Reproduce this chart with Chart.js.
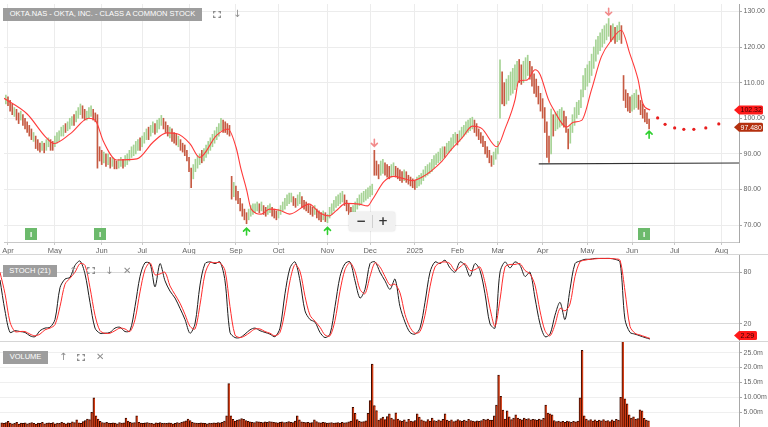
<!DOCTYPE html>
<html>
<head>
<meta charset="utf-8">
<script src="https://cdn.jsdelivr.net/npm/chart.js@4.4.1/dist/chart.umd.min.js"></script>
<style>
  html, body { margin: 0; padding: 0; background: #fff; }
  #wrap { position: relative; width: 768px; height: 427px; overflow: hidden; font-family: "Liberation Sans", Arial, sans-serif; }
  .pane { position: absolute; left: 0; width: 768px; box-sizing: border-box; }
  .pane canvas { position: absolute; left: 0; top: 0; }
  .tag { position: absolute; box-sizing: border-box; height: 12.5px; line-height: 12.5px; background: #9d9d9d; color: #fff;
         font-size: 7.5px; text-align: center; white-space: nowrap; }
  .ico { position: absolute; color: #8c8c8c; font-family: "DejaVu Sans", sans-serif; font-size: 10px; line-height: 10px; }
  #zoomCtl { position: absolute; left: 349px; top: 212px; width: 46px; height: 19px; background: #f1f1f1; border-radius: 2px;
             box-shadow: 0 0 2px rgba(0,0,0,0.18); font-family: "DejaVu Sans", sans-serif; font-weight: bold; color: #333; font-size: 12px; }
  #zoomCtl span { position: absolute; top: 2px; line-height: 14px; }
  #zoomCtl i { position: absolute; left: 23px; top: 3px; width: 1px; height: 13px; background: #d0d0d0; }
</style>
</head>
<body>
<div id="wrap">
  <div class="pane" style="top:0;height:254px"><canvas id="cPrice" width="768" height="254"></canvas></div>
  <div class="pane" style="top:254px;height:87px;border-top:1px solid #d6d6d6"><canvas id="cStoch" width="768" height="86"></canvas></div>
  <div class="pane" style="top:341px;height:86px;border-top:1px solid #d6d6d6"><canvas id="cVol" width="768" height="85"></canvas></div>

  <div class="tag" style="left:3px;top:8px;width:199px">OKTA.NAS - OKTA, INC. - CLASS A COMMON STOCK</div>
  <svg class="ico" style="left:213px;top:10.5px" width="8" height="7"><path d="M0.6 2.4V0.6H2.6M5.4 0.6H7.4V2.4M7.4 4.6V6.4H5.4M2.6 6.4H0.6V4.6" stroke="#8c8c8c" stroke-width="1.2" fill="none"/></svg>
  <div class="ico" style="left:233px;top:9px">↓</div>

  <div class="tag" style="left:3px;top:264.5px;width:54px">STOCH (21)</div>
  <div class="ico" style="left:69px;top:265.5px">↑</div>
  <svg class="ico" style="left:87px;top:267px" width="8" height="7"><path d="M0.6 2.4V0.6H2.6M5.4 0.6H7.4V2.4M7.4 4.6V6.4H5.4M2.6 6.4H0.6V4.6" stroke="#8c8c8c" stroke-width="1.2" fill="none"/></svg>
  <div class="ico" style="left:105px;top:265.5px">↓</div>
  <div class="ico" style="left:123px;top:265.5px">✕</div>

  <div class="tag" style="left:3px;top:351px;width:45px">VOLUME</div>
  <div class="ico" style="left:59px;top:352px">↑</div>
  <svg class="ico" style="left:77px;top:353.5px" width="8" height="7"><path d="M0.6 2.4V0.6H2.6M5.4 0.6H7.4V2.4M7.4 4.6V6.4H5.4M2.6 6.4H0.6V4.6" stroke="#8c8c8c" stroke-width="1.2" fill="none"/></svg>
  <div class="ico" style="left:96px;top:352px">✕</div>

  <div id="zoomCtl"><span style="left:7px">−</span><i></i><span style="left:29px">+</span></div>
</div>

<script>
/* ---- shared x axis: trading-day index, 0 = 1 Apr 2024 ---- */
const X_MIN = -1.87;
const X_MAX = 343.2;
const AXIS_W = 29;
const FONT = "'Liberation Sans', Arial, sans-serif";

const monthIdx = [0, 22, 44, 63, 85, 107, 127, 150, 170, 191, 211, 230, 251, 272, 293, 313, 335];
const monthLabels = ["Apr", "May", "Jun", "Jul", "Aug", "Sep", "Oct", "Nov", "Dec", "2025", "Feb", "Mar", "Apr", "May", "Jun", "Jul", "Aug"];

/* ---- price bars, one per trading day from idx -1 ---- */
const FIRST_IDX = -1;
const priceLow = [
  104, 103.5, 102, 101, 100.5, 99.5, 98.5, 99.5, 98, 97,
  96, 95, 94, 93.5, 91.5, 91, 90.5, 91, 90.3, 91,
  92, 91, 91, 92, 93, 93.5, 95, 95, 96, 96.5,
  97, 98, 98, 99, 100, 101, 100, 99.5, 99.5, 100,
  100.5, 99.5, 99, 86, 88, 87, 87.5, 86.5, 87, 86,
  86.5, 85.8, 85.8, 86, 86.5, 86, 86.5, 87, 88, 89,
  89.5, 90, 91, 91, 92, 93, 94, 94, 95, 96,
  95.5, 96, 97, 98, 97, 96, 95, 94.5, 93.5, 93,
  92.5, 92, 91, 90.5, 89.5, 88, 85, 80.5, 83, 85,
  86, 87, 87.5, 88, 89, 90, 91, 92, 93, 94,
  95, 96.5, 96, 96, 95.5, 95, 77.3, 78, 77, 76,
  74, 72.5, 71.5, 70.4, 71.5, 72.5, 73, 73.5, 74, 73.5,
  74, 73, 72.5, 73, 73.5, 72.5, 72, 71.5, 72, 73,
  74, 74.5, 75.5, 76, 76.5, 75.5, 75, 75.5, 76, 75,
  74.5, 74, 73.5, 73, 72.5, 73, 72, 71.5, 71, 71.5,
  71, 70.7, 72, 73, 74, 75, 75.5, 76, 76.5, 75.5,
  74, 73, 72.5, 73, 73.5, 74.5, 75.5, 76, 76.5, 77,
  77.5, 78, 78.5, 84, 84, 83, 84, 84.5, 84, 83.5,
  83, 83.5, 84, 83.5, 83, 82.5, 82, 82.5, 82, 81.5,
  81, 80.5, 80, 80.5, 81, 81.5, 82.5, 83.5, 84, 84.5,
  85, 86, 87, 87.5, 88, 88.5, 89, 90, 90.5, 91,
  92, 93, 92.5, 93.5, 94.5, 95, 95.5, 96, 96.5, 97,
  96, 95, 94, 93, 92, 90, 89, 87.5, 86.5, 87,
  88.5, 90, 100, 104, 103.5, 104, 105, 106.5, 107, 108,
  109, 110, 109.5, 110, 111, 112, 111, 109, 107, 106,
  104, 102, 100, 96, 89, 87.6, 90, 95, 96.5, 97,
  97.5, 98, 97.5, 96, 91.4, 93, 96, 98, 100, 101,
  103, 106, 108, 109, 110, 112, 114, 116, 118, 119,
  120, 121, 122, 123, 121.5, 122, 121, 121.5, 122, 121,
  105, 103, 102, 101.6, 102, 102.5, 103, 102.5, 101, 100,
  99, 98.5, 97
];
const priceHigh = [
  106.5, 106, 105, 104, 103, 102.5, 101.5, 102, 101, 100,
  99, 98, 97, 96, 95, 94, 93, 93.5, 93, 94,
  94.5, 94, 93.5, 95, 96, 96.5, 97.5, 98, 98.5, 99,
  100, 100.5, 101, 102, 103, 104, 103.5, 102.5, 102, 103,
  103.5, 102.5, 101.5, 101, 92, 91, 90.5, 90, 90, 89,
  89, 88.5, 88, 88.5, 89, 88.5, 89.5, 90, 91, 92,
  92.5, 93.5, 94, 94.5, 95, 96, 97, 97.5, 98, 99,
  98.5, 99.5, 100, 100.8, 100, 99, 98, 97.5, 97, 96,
  95.5, 95, 94, 93, 92.5, 91, 89, 86, 87, 88.5,
  89.5, 90, 91, 91.5, 92.5, 93.5, 94.5, 95.5, 96.5, 97.5,
  98.5, 100, 99.5, 99, 98.5, 98, 83.7, 82, 81, 79.5,
  77.5, 76, 74.5, 73.5, 74.5, 75.5, 76, 76, 76.5, 76,
  76.5, 75.5, 75, 75.5, 76, 75, 74.5, 74, 74.5, 75.5,
  76.5, 77.5, 78.5, 79, 79, 78, 77.5, 78.5, 79.2, 78,
  77, 76.5, 76, 75.5, 75, 75.5, 74.5, 74, 73.5, 74,
  73.5, 73, 75, 76, 77, 78, 78.5, 79, 79.5, 78.5,
  77, 76, 75, 75.5, 76.5, 77.5, 78.5, 79, 79.5, 80,
  80.5, 81, 81.5, 91, 88, 87, 88, 88.5, 87.5, 87,
  86.5, 87, 87.5, 86.5, 86, 85.5, 85, 85.5, 85, 84,
  83.5, 83, 82.5, 83.5, 84, 84.5, 85.5, 86.5, 87, 87.5,
  88.5, 89.5, 90, 90.5, 91.5, 92, 92, 93, 93.5, 94.5,
  95.5, 96, 95.5, 96.5, 97.5, 98, 99, 99.5, 100, 100.3,
  99.5, 98.5, 97, 96, 95, 93.5, 92, 91, 89.5, 90.5,
  91.5, 93.5, 116.4, 113, 110, 111, 112, 113, 114, 115,
  116, 116.5, 115, 116, 117, 117.7, 116, 114.5, 112.5, 111,
  109, 107, 105.5, 103, 99, 95, 102.6, 101, 101.5, 102,
  102.5, 103, 102, 100.5, 97, 98, 101, 103, 104.5, 105,
  108, 112, 114, 115, 116, 118, 120, 122, 123, 124,
  125, 126, 126.5, 128, 126, 126.5, 125.5, 126, 127, 126,
  112, 108, 107, 106, 106.5, 107, 108, 106.5, 105, 104,
  102.5, 101.5, 99.8
];
// u = up day (green), d = down day (red)
const priceDir =
  "uddduddudd" + "dddudddudu" + "udduuuuudu" + "uuduuudduu" + "udddddudud" +
  "udduuduuuu" + "uuuduuuduu" + "duuudddudd" + "dudddddduu" + "uuduuuuuuu" +
  "uudddddudd" + "dddduuuuud" + "udduuddduu" + "uuuuudduud" + "dddddudddu" +
  "duuuuuuuud" + "ddduuuuuuu" + "uuuddduudd" + "duuddddudd" + "ddduuuuuuu" +
  "uuuuuuduuu" + "uuduuuuuuu" + "dddddddddu" + "uuudduuuuu" + "udduuudddd" +
  "dddddduduu" + "uuddduuuuu" + "uuuuuuuuuu" + "uuuududuud" + "dddduuuddd" +
  "ddd";

/* ---- moving average (red line) ---- */
const maX = [-1.9, 9, 17.6, 21.5, 29.3, 37.9, 41, 44.9, 51, 60.5, 68.3, 74.5, 79, 85.4, 90, 97.9, 103.3,
  107, 109.5, 112, 114.2, 118.9, 122.8, 127.5, 132.2, 141.5, 146.2, 150.9, 154, 158.6, 164.9, 168.8, 171.1,
  176.6, 181.2, 185.1, 189.8, 194.5, 203.8, 208.5, 213.2, 218, 222.5, 229.5, 233.4, 238.1, 239.7, 243.6,
  247.5, 249.8, 253.7, 256, 262.3, 265.4, 269.3, 274, 278.6, 283.3, 288, 291.9, 295.8, 298.1, 301.5];
const maY = [105.6, 101.2, 94.8, 92.9, 95.7, 100, 99.4, 93.4, 88.3, 88.6, 93.4, 95.9, 95.7, 92.9, 89, 95.2, 97,
  92, 85.5, 80, 74.5, 73.1, 74.5, 74.2, 73.1, 75.9, 73.5, 72.6, 74, 76.1, 75.9, 75.4, 77.2,
  82.3, 83.7, 83.2, 82.5, 83.5, 88, 91.5, 94.5, 97.8, 97.1, 92, 97.1, 105.3, 110.4, 110.7,
  113.6, 112.3, 105.3, 102.6, 97.5, 98.9, 99.4, 108.1, 117.3, 121.9, 124.7, 118.2, 110.9, 104, 102.3];

/* ---- projection dots, support line, markers ---- */
const fcX = [305, 308.5, 313, 317.3, 322, 327.6, 333.7];
const fcY = [100.1, 98.3, 97.3, 96.9, 96.9, 97.3, 98.4];
const supportX = [249.2, 343.2];
const supportY = [87.2, 87.45];
const upArrowIdx = [112, 150, 301];
const upArrowPrice = [68.2, 68.4, 95.4];
const downArrowIdx = [172, 282];
const downArrowPrice = [93.1, 129.9];
const eventIdx = [10.7, 43, 298.6];
const EVENT_PRICE = 67.4;
const LAST_MA = 102.32;
const LAST_CLOSE = 97.48;
const priceTicks = [70, 80, 90, 100, 110, 120, 130];

/* ---- stochastic (21), sampled every 5 px from the left edge ---- */
const STOCH_X0 = -1.87;
const STOCH_DX = 2.3347;
const stochK = [
  71, 35, 10, 12, 11, 10, 6, 5, 12, 15,
  16, 25, 62, 72, 74, 88, 93, 78, 45, 15,
  9, 9, 10, 15, 16, 11, 12, 40, 75, 91,
  90, 63, 90, 70, 58, 50, 38, 25, 9, 20,
  65, 90, 92, 90, 92, 70, 10, 4, 4, 8,
  13, 15, 12, 10, 8, 5, 15, 55, 85, 92,
  70, 35, 25, 22, 10, 4, 8, 40, 75, 90,
  92, 70, 50, 60, 90, 92, 80, 70, 60, 72,
  40, 22, 10, 8, 15, 45, 80, 92, 90, 94,
  85, 80, 92, 88, 75, 90, 82, 55, 20, 15,
  80, 92, 85, 92, 88, 75, 80, 50, 20, 5,
  8, 30, 45, 25, 60, 90, 93, 95, 95, 96,
  96, 96, 96, 95, 92, 25, 10, 8, 6, 4,
  2.3
];
const stochD = [
  80, 55, 22, 11, 11, 11, 8, 6, 8, 13,
  15, 19, 40, 66, 73, 80, 90, 88, 62, 30,
  12, 9, 9, 12, 15, 14, 11, 25, 57, 83,
  91, 77, 78, 80, 64, 54, 44, 31, 17, 14,
  42, 78, 91, 91, 91, 82, 40, 7, 4, 6,
  10, 14, 14, 11, 9, 6, 10, 35, 70, 89,
  81, 52, 30, 23, 16, 7, 6, 24, 58, 83,
  91, 81, 60, 55, 75, 91, 86, 75, 65, 66,
  56, 31, 16, 9, 11, 30, 63, 86, 91, 92,
  90, 82, 86, 90, 82, 83, 86, 68, 38, 17,
  48, 86, 89, 89, 90, 82, 78, 65, 35, 12,
  6, 19, 38, 35, 43, 75, 92, 94, 95, 95.5,
  96, 96, 96, 95.5, 94, 58, 17, 9, 7, 5,
  3
];
const LAST_STOCH = 2.29;
const stochTicks = [20, 80];

/* ---- volume (millions), one per trading day from idx -1 ---- */
const volume = [
  1.4, 1.2, 1.5, 1.9, 1.3, 1.1, 1.2, 1.6, 1.0, 1.3,
  1.2, 1.4, 1.1, 1.3, 1.5, 1.2, 1.0, 1.3, 1.2, 1.6,
  1.1, 1.3, 1.4, 1.2, 1.5, 1.1, 1.3, 1.2, 1.6, 1.3,
  1.1, 1.4, 1.3, 1.7, 1.5, 2.4, 1.4, 1.2, 1.8, 2.2,
  2.7, 2.5, 4.9, 9.8, 3.8, 2.7, 1.9, 1.5, 1.4, 1.6,
  1.3, 1.2, 1.4, 1.3, 1.1, 1.5, 1.3, 1.4, 3.0, 2.0,
  1.6, 1.4, 1.5, 3.8, 1.6, 1.3, 1.2, 1.4, 1.5, 1.3,
  1.2, 1.1, 1.4, 1.3, 1.5, 1.2, 1.3, 1.2, 1.4, 1.3,
  1.1, 1.2, 1.5, 1.3, 1.6, 1.8, 2.1, 2.7, 2.2, 1.6,
  1.4, 1.3, 1.2, 1.4, 1.3, 1.2, 1.1, 1.3, 1.2, 1.4,
  1.3, 1.5, 1.4, 1.6, 2.0, 3.8, 14.6, 3.8, 2.6, 2.0,
  2.3, 2.5, 2.8, 2.6, 2.2, 1.9, 1.7, 1.6, 1.5, 1.8,
  1.7, 1.6, 1.5, 1.7, 1.6, 1.8, 1.7, 1.6, 1.5, 1.4,
  1.6, 1.7, 1.5, 1.6, 1.8, 1.6, 1.5, 2.0, 3.8, 2.4,
  1.7, 1.6, 1.5, 1.6, 1.4, 1.5, 2.4, 1.8, 1.5, 1.4,
  1.6, 1.5, 1.3, 1.4, 1.5, 1.3, 1.4, 1.5, 1.3, 1.6,
  1.4, 1.5, 1.7, 2.0, 6.6, 4.6, 2.5, 1.9, 1.7, 1.8,
  2.1, 4.6, 8.9, 21.2, 7.2, 5.5, 2.3, 2.8, 3.3, 2.5,
  3.5, 4.4, 3.0, 2.5, 4.8, 2.7, 2.2, 1.9, 2.4, 1.7,
  2.6, 2.0, 1.8, 2.2, 4.4, 3.3, 2.4, 2.1, 1.8, 2.5,
  2.0, 3.0, 2.2, 1.9, 2.4, 2.1, 2.6, 4.4, 2.3, 2.0,
  2.4, 1.8, 2.1, 2.5, 2.2, 1.9, 2.3, 2.0, 2.6, 2.2,
  2.0, 1.8, 2.1, 1.9, 2.2, 2.6, 2.4, 2.7, 2.3, 2.3,
  3.8, 7.4, 17.5, 10.3, 5.7, 2.7, 5.4, 3.4, 2.5, 3.0,
  4.1, 3.0, 2.7, 2.4, 3.0, 2.6, 2.8, 2.4, 2.6, 2.5,
  2.3, 2.7, 2.4, 2.9, 7.4, 4.7, 4.4, 4.1, 2.2, 1.8,
  2.0, 1.7, 1.9, 1.6, 2.0, 1.8, 1.6, 1.9, 1.7, 2.0,
  9.8, 25.8, 3.8, 2.7, 2.2, 2.5, 2.0, 2.4, 1.9, 2.3,
  2.1, 2.5, 2.0, 2.2, 1.8, 2.4, 2.0, 2.6, 2.3, 10.0,
  32, 9.5, 7.8, 4.1, 3.0, 3.4, 2.6, 2.8, 5.8, 5.4,
  2.9, 2.3, 2.1
];
const volTicks = [5, 10, 15, 20, 25];
const volTickLabels = ["5.00m", "10.00m", "15.0m", "20.0m", "25.0m"];

/* ---------------- helpers ---------------- */
const GRID = "#ececec";
const AXIS = "#a8a8a8";
const TICK = "#666";

function xAxis(extra) {
  return Object.assign({
    type: "linear", min: X_MIN, max: X_MAX, bounds: "data", offset: false,
    ticks: { display: false }, grid: { display: false, drawTicks: false }, border: { display: false },
    afterFit: (s) => { s.height = 0; s.paddingLeft = 0; s.paddingRight = 0; },
  }, extra || {});
}
function yAxis(min, max, ticks, fmt, gridColor) {
  return {
    position: "right", min, max, bounds: "data",
    afterBuildTicks: (s) => { s.ticks = ticks.map((v) => ({ value: v })); },
    afterFit: (s) => { s.width = AXIS_W; s.paddingTop = 0; s.paddingBottom = 0; },
    ticks: { color: TICK, font: { size: 7, family: FONT }, padding: 1.5, callback: fmt },
    grid: { color: gridColor, tickLength: 3, tickColor: AXIS },
    border: { color: AXIS },
  };
}
function drawTag(ctx, left, mid, text, bg, fg, w) {
  const h = 9;
  ctx.fillStyle = bg;
  ctx.beginPath();
  ctx.moveTo(left, mid);
  ctx.lineTo(left + 5, mid - h / 2);
  ctx.lineTo(left + w - 1.5, mid - h / 2);
  ctx.quadraticCurveTo(left + w, mid - h / 2, left + w, mid - h / 2 + 1.5);
  ctx.lineTo(left + w, mid + h / 2 - 1.5);
  ctx.quadraticCurveTo(left + w, mid + h / 2, left + w - 1.5, mid + h / 2);
  ctx.lineTo(left + 5, mid + h / 2);
  ctx.closePath();
  ctx.fill();
  ctx.fillStyle = fg;
  ctx.font = "7px " + FONT;
  ctx.textAlign = "left";
  ctx.textBaseline = "middle";
  ctx.fillText(text, left + 6.5, mid + 0.5);
}
function drawArrow(ctx, px, py, dir, color) {
  ctx.strokeStyle = color;
  ctx.lineWidth = 1.6;
  ctx.lineCap = "round";
  ctx.beginPath();
  ctx.moveTo(px, py + dir * 3.5);
  ctx.lineTo(px, py - dir * 3.5);
  ctx.moveTo(px - 3, py - dir * 0.5);
  ctx.lineTo(px, py - dir * 3.5);
  ctx.lineTo(px + 3, py - dir * 0.5);
  ctx.stroke();
}

const priceMarks = {
  id: "priceMarks",
  afterDraw(chart) {
    const { ctx, chartArea } = chart;
    const x = chart.scales.x, y = chart.scales.y;
    ctx.save();
    eventIdx.forEach((i) => {
      const px = x.getPixelForValue(i), py = y.getPixelForValue(EVENT_PRICE);
      ctx.fillStyle = "#6cba6c";
      ctx.fillRect(Math.round(px - 6), Math.round(py - 6), 12, 12);
      ctx.fillStyle = "#fff";
      ctx.font = "bold 8px " + FONT;
      ctx.textAlign = "center";
      ctx.textBaseline = "middle";
      ctx.fillText("I", Math.round(px), Math.round(py) + 0.5);
    });
    upArrowIdx.forEach((i, k) => drawArrow(ctx, x.getPixelForValue(i), y.getPixelForValue(upArrowPrice[k]), 1, "#2fcf2f"));
    downArrowIdx.forEach((i, k) => drawArrow(ctx, x.getPixelForValue(i), y.getPixelForValue(downArrowPrice[k]), -1, "#f28b8b"));
    drawTag(ctx, chartArea.right - 5, y.getPixelForValue(LAST_MA), LAST_MA.toFixed(2), "#ff1a1a", "#3a0000", 29);
    drawTag(ctx, chartArea.right - 5, y.getPixelForValue(LAST_CLOSE), LAST_CLOSE.toFixed(3), "#b4300f", "#fff", 29);
    ctx.restore();
  },
};
const stochMarks = {
  id: "stochMarks",
  afterDraw(chart) {
    const { ctx, chartArea } = chart;
    ctx.save();
    drawTag(ctx, chartArea.right - 5, chart.scales.y.getPixelForValue(LAST_STOCH) - 3.5, LAST_STOCH.toFixed(2), "#ff1a1a", "#3a0000", 23);
    ctx.restore();
  },
};

Chart.defaults.font.family = FONT;
Chart.defaults.animation = false;
const common = {
  responsive: false, maintainAspectRatio: false, animation: false,
  layout: { padding: 0 },
  plugins: { legend: { display: false }, tooltip: { enabled: false } },
};

/* ---------------- price panel ---------------- */
const bars = priceLow.map((lo, i) => ({ x: FIRST_IDX + i, y: [lo, priceHigh[i]] }));
const barColors = priceLow.map((_, i) => (priceDir[i] === "u" ? "#a6d395" : "#c65a42"));

new Chart(document.getElementById("cPrice"), {
  type: "bar",
  data: {
    datasets: [
      { type: "line", data: supportX.map((v, i) => ({ x: v, y: supportY[i] })), borderColor: "#333", borderWidth: 1.2, pointRadius: 0, order: 4 },
      { type: "bar", data: bars, backgroundColor: barColors, barThickness: 1, grouped: false, order: 3 },
      { type: "line", data: maX.map((v, i) => ({ x: v, y: maY[i] })), borderColor: "#ff3a3a", borderWidth: 1.1, pointRadius: 0,
        cubicInterpolationMode: "monotone", order: 2 },
      { type: "line", data: fcX.map((v, i) => ({ x: v, y: fcY[i] })), showLine: false, pointRadius: 1.6, pointBorderWidth: 0,
        pointBackgroundColor: "#e81e1e", order: 1 },
    ],
  },
  options: Object.assign({}, common, {
    scales: {
      x: {
        type: "linear", min: X_MIN, max: X_MAX, bounds: "data", offset: false,
        afterBuildTicks: (s) => { s.ticks = monthIdx.map((v) => ({ value: v })); },
        afterFit: (s) => { s.height = 12; s.paddingLeft = 0; s.paddingRight = 0; },
        ticks: { autoSkip: false, maxRotation: 0, color: TICK, font: { size: 7.5, family: FONT }, padding: 1,
                 callback: (v, i) => monthLabels[i] },
        grid: { color: GRID, tickLength: 3, tickColor: "#c8c8c8", offset: false },
        border: { color: "#c8c8c8" },
      },
      y: yAxis(65.27, 132.07, priceTicks, (v) => v.toFixed(2), GRID),
    },
  }),
  plugins: [priceMarks],
});

/* ---------------- stochastic panel ---------------- */
const stochPts = (arr) => arr.map((v, i) => ({ x: STOCH_X0 + i * STOCH_DX, y: v }));
new Chart(document.getElementById("cStoch"), {
  type: "line",
  data: {
    datasets: [
      { data: stochPts(stochD), borderColor: "#ff2b2b", borderWidth: 1, pointRadius: 0, tension: 0.3 },
      { data: stochPts(stochK), borderColor: "#1e1e1e", borderWidth: 1, pointRadius: 0, tension: 0.3 },
    ],
  },
  options: Object.assign({}, common, {
    scales: {
      x: xAxis(),
      y: yAxis(0, 100, stochTicks, (v) => String(v), "#d9d9d9"),
    },
  }),
  plugins: [stochMarks],
});

/* ---------------- volume panel ---------------- */
new Chart(document.getElementById("cVol"), {
  type: "bar",
  data: {
    datasets: [{
      data: volume.map((v, i) => ({ x: FIRST_IDX + i, y: v })),
      backgroundColor: "#d23c14",
      borderColor: "#3c0c00",
      borderWidth: { top: 1, left: 1, right: 0, bottom: 0 },
      borderSkipped: false,
      barPercentage: 1, categoryPercentage: 1,
    }],
  },
  options: Object.assign({}, common, {
    scales: {
      x: xAxis(),
      y: yAxis(0, 28.6, volTicks, (v, i) => volTickLabels[i], "#efefef"),
    },
  }),
});
</script>
</body>
</html>
